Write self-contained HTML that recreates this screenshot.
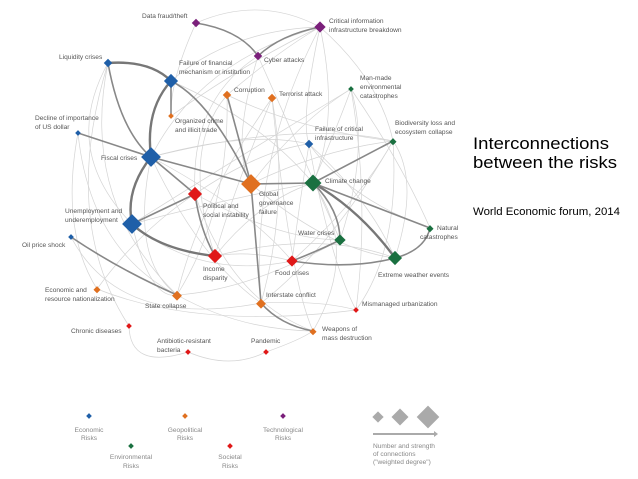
<!DOCTYPE html>
<html><head><meta charset="utf-8"><style>
body{margin:0;background:#fff;width:638px;height:479px;overflow:hidden;font-family:"Liberation Sans",sans-serif}
svg{position:absolute;left:0;top:0}
.t{font-size:6.6px;fill:#555}
.l{fill:none;stroke:#d4d4d4;stroke-width:0.7}
.d{fill:none;stroke:#888;stroke-width:1.6}
.dd{fill:none;stroke:#777;stroke-width:2.4}
</style></head><body>
<svg width="638" height="479" viewBox="0 0 638 479">
<g class="l">
<path d="M196,23 Q260,-5 320,27"/><path d="M196,23 Q170,80 171,116"/><path d="M320,27 Q340,120 313,183"/>
<path d="M320,27 Q380,80 393,141"/><path d="M320,27 Q200,60 151,157"/><path d="M320,27 Q300,120 309,144"/>
<path d="M258,56 Q230,150 251,184"/><path d="M258,56 Q300,150 340,240"/><path d="M320,27 Q250,160 261,303"/>
<path d="M108,63 Q60,150 132,224"/><path d="M108,63 Q80,200 177,295"/><path d="M78,133 Q60,230 97,289"/>
<path d="M151,157 Q300,120 393,141"/><path d="M151,157 Q250,130 309,144"/><path d="M151,157 Q130,260 177,295"/>
<path d="M151,157 Q200,260 261,303"/><path d="M132,224 Q200,280 292,261"/><path d="M132,224 Q150,300 177,295"/>
<path d="M132,224 Q220,200 313,183"/><path d="M71,237 Q120,330 261,303"/><path d="M97,289 Q200,330 356,310"/>
<path d="M177,295 Q250,290 340,240"/><path d="M177,295 Q230,210 227,95"/><path d="M177,295 Q200,200 272,98"/>
<path d="M261,303 Q330,250 393,141"/><path d="M261,303 Q290,200 272,98"/><path d="M261,303 Q320,300 356,310"/>
<path d="M356,310 Q370,200 351,89"/><path d="M356,310 Q400,250 393,141"/><path d="M356,310 Q330,260 309,144"/>
<path d="M313,331 Q290,280 272,98"/><path d="M313,331 Q230,300 195,194"/><path d="M313,331 Q360,250 313,183"/>
<path d="M292,261 Q360,200 393,141"/><path d="M292,261 Q300,200 309,144"/><path d="M292,261 Q250,250 215,256"/>
<path d="M340,240 Q370,150 351,89"/><path d="M395,258 Q420,180 393,141"/><path d="M430,228 Q400,160 351,89"/>
<path d="M313,183 Q340,120 351,89"/><path d="M251,184 Q300,120 351,89"/><path d="M251,184 Q320,150 393,141"/>
<path d="M129,326 Q130,370 188,352"/><path d="M188,352 Q230,370 266,352"/><path d="M266,352 Q300,340 313,331"/>
<path d="M129,326 Q60,220 108,63"/><path d="M195,194 Q190,100 258,56"/><path d="M215,256 Q180,150 227,95"/>
<path d="M171,81 Q230,30 320,27"/><path d="M171,116 Q250,60 320,27"/><path d="M227,95 Q280,50 320,27"/>
<path d="M251,184 Q330,250 395,258"/><path d="M195,194 Q280,240 340,240"/><path d="M215,256 Q320,230 395,258"/>
<path d="M177,295 Q240,330 313,331"/><path d="M97,289 Q140,230 195,194"/><path d="M151,157 Q250,210 292,261"/>
<path d="M309,144 Q370,200 395,258"/><path d="M309,144 Q350,200 430,228"/><path d="M272,98 Q230,200 215,256"/>
<path d="M78,133 Q90,250 177,295"/><path d="M171,81 Q260,120 313,183"/><path d="M227,95 Q300,130 393,141"/>
<path d="M195,194 Q260,150 309,144"/><path d="M215,256 Q260,200 313,183"/><path d="M132,224 Q250,150 351,89"/>
</g>
<g class="d">
<path d="M196,23 Q240,30 258,56"/><path d="M258,56 Q280,35 320,27"/><path d="M108,63 Q120,130 151,157"/>
<path d="M78,133 L151,157"/><path d="M151,157 L251,184"/><path d="M151,157 L195,194"/><path d="M171,81 Q210,100 251,184"/>
<path d="M227,95 L251,184"/><path d="M251,184 L313,183"/><path d="M251,184 L261,303"/><path d="M132,224 L195,194"/>
<path d="M195,194 Q200,230 215,256"/><path d="M313,183 L393,141"/><path d="M313,183 L430,228"/><path d="M313,183 Q340,210 340,240"/>
<path d="M292,261 Q320,250 340,240"/><path d="M292,261 Q350,270 395,258"/><path d="M395,258 Q425,250 430,228"/>
<path d="M261,303 Q280,325 313,331"/><path d="M71,237 Q120,270 177,295"/><path d="M171,81 L171,116"/>
</g>
<g class="dd">
<path d="M108,63 Q150,60 171,81"/><path d="M171,81 Q145,110 151,157"/><path d="M151,157 Q125,190 132,224"/>
<path d="M132,224 Q160,250 215,256"/><path d="M313,183 Q360,210 395,258"/>
</g>
<g>
<g fill="#7a1f7a"><rect x="193" y="20" width="6" height="6" transform="rotate(45 196 23)"/><rect x="316" y="23" width="8" height="8" transform="rotate(45 320 27)"/><rect x="255" y="53" width="6" height="6" transform="rotate(45 258 56)"/></g>
<g fill="#1f5fa8"><rect x="105" y="60" width="6" height="6" transform="rotate(45 108 63)"/><rect x="166" y="76" width="10" height="10" transform="rotate(45 171 81)"/><rect x="76" y="131" width="4" height="4" transform="rotate(45 78 133)"/><rect x="306" y="141" width="6" height="6" transform="rotate(45 309 144)"/><rect x="144" y="150" width="14" height="14" transform="rotate(45 151 157)"/><rect x="125" y="217" width="14" height="14" transform="rotate(45 132 224)"/><rect x="69" y="235" width="4" height="4" transform="rotate(45 71 237)"/></g>
<g fill="#e07020"><rect x="224" y="92" width="6" height="6" transform="rotate(45 227 95)"/><rect x="269" y="95" width="6" height="6" transform="rotate(45 272 98)"/><rect x="169" y="114" width="4" height="4" transform="rotate(45 171 116)"/><rect x="244" y="177" width="14" height="14" transform="rotate(45 251 184)"/><rect x="95" y="287" width="5" height="5" transform="rotate(45 97 289)"/><rect x="174" y="292" width="7" height="7" transform="rotate(45 177 295)"/><rect x="258" y="300" width="7" height="7" transform="rotate(45 261 303)"/><rect x="311" y="329" width="5" height="5" transform="rotate(45 313 331)"/></g>
<g fill="#1a7040"><rect x="349" y="87" width="4" height="4" transform="rotate(45 351 89)"/><rect x="391" y="139" width="5" height="5" transform="rotate(45 393 141)"/><rect x="307" y="177" width="12" height="12" transform="rotate(45 313 183)"/><rect x="428" y="226" width="5" height="5" transform="rotate(45 430 228)"/><rect x="336" y="236" width="8" height="8" transform="rotate(45 340 240)"/><rect x="390" y="253" width="10" height="10" transform="rotate(45 395 258)"/></g>
<g fill="#e01818"><rect x="190" y="189" width="10" height="10" transform="rotate(45 195 194)"/><rect x="210" y="251" width="10" height="10" transform="rotate(45 215 256)"/><rect x="288" y="257" width="8" height="8" transform="rotate(45 292 261)"/><rect x="354" y="308" width="4" height="4" transform="rotate(45 356 310)"/><rect x="127" y="324" width="4" height="4" transform="rotate(45 129 326)"/><rect x="186" y="350" width="4" height="4" transform="rotate(45 188 352)"/><rect x="264" y="350" width="4" height="4" transform="rotate(45 266 352)"/></g>
</g>
<g class="t">
<text x="142" y="18">Data fraud/theft</text>
<text x="329" y="23">Critical information</text><text x="329" y="32">infrastructure breakdown</text>
<text x="264" y="62">Cyber attacks</text>
<text x="59" y="59">Liquidity crises</text>
<text x="179" y="65">Failure of financial</text><text x="179" y="74">mechanism or institution</text>
<text x="234" y="92">Corruption</text><text x="279" y="96">Terrorist attack</text>
<text x="360" y="80">Man-made</text><text x="360" y="89">environmental</text><text x="360" y="98">catastrophes</text>
<text x="175" y="123">Organized crime</text><text x="175" y="132">and illicit trade</text>
<text x="35" y="120">Decline of importance</text><text x="35" y="129">of US dollar</text>
<text x="315" y="131">Failure of critical</text><text x="315" y="140">infrastructure</text>
<text x="395" y="125">Biodiversity loss and</text><text x="395" y="134">ecosystem collapse</text>
<text x="101" y="160">Fiscal crises</text>
<text x="325" y="183">Climate change</text>
<text x="259" y="196">Global</text><text x="259" y="205">governance</text><text x="259" y="214">failure</text>
<text x="203" y="208">Political and</text><text x="203" y="217">social instability</text>
<text x="65" y="213">Unemployment and</text><text x="65" y="222">underemployment</text>
<text x="22" y="247">Oil price shock</text>
<text x="437" y="230">Natural</text><text x="420" y="239">catastrophes</text>
<text x="298" y="235">Water crises</text>
<text x="203" y="271">Income</text><text x="203" y="280">disparity</text>
<text x="275" y="275">Food crises</text>
<text x="378" y="277">Extreme weather events</text>
<text x="45" y="292">Economic and</text><text x="45" y="301">resource nationalization</text>
<text x="145" y="308">State collapse</text>
<text x="266" y="297">Interstate conflict</text>
<text x="362" y="306">Mismanaged urbanization</text>
<text x="322" y="331">Weapons of</text><text x="322" y="340">mass destruction</text>
<text x="71" y="333">Chronic diseases</text>
<text x="157" y="343">Antibiotic-resistant</text><text x="157" y="352">bacteria</text>
<text x="251" y="343">Pandemic</text>
</g>
<g class="t" style="fill:#888" text-anchor="middle">
<rect x="87" y="414" width="4" height="4" fill="#1f5fa8" transform="rotate(45 89 416)"/>
<text x="89" y="432">Economic</text><text x="89" y="440">Risks</text>
<rect x="129" y="444" width="4" height="4" fill="#1a7040" transform="rotate(45 131 446)"/>
<text x="131" y="459">Environmental</text><text x="131" y="468">Risks</text>
<rect x="183" y="414" width="4" height="4" fill="#e07020" transform="rotate(45 185 416)"/>
<text x="185" y="432">Geopolitical</text><text x="185" y="440">Risks</text>
<rect x="228" y="444" width="4" height="4" fill="#e01818" transform="rotate(45 230 446)"/>
<text x="230" y="459">Societal</text><text x="230" y="468">Risks</text>
<rect x="281" y="414" width="4" height="4" fill="#7a1f7a" transform="rotate(45 283 416)"/>
<text x="283" y="432">Technological</text><text x="283" y="440">Risks</text>
</g>
<rect x="374" y="413" width="8" height="8" fill="#aaa" transform="rotate(45 378 417)"/>
<rect x="394" y="411" width="12" height="12" fill="#aaa" transform="rotate(45 400 417)"/>
<rect x="420" y="409" width="16" height="16" fill="#aaa" transform="rotate(45 428 417)"/>
<line x1="373" y1="434" x2="434" y2="434" stroke="#aaa" stroke-width="2"/>
<polygon points="434,431 438,434 434,437" fill="#aaa"/>
<g class="t" style="fill:#888"><text x="373" y="448">Number and strength</text><text x="373" y="456">of connections</text><text x="373" y="464">("weighted degree")</text></g>
<text x="473" y="149" font-size="16.5" fill="#000" textLength="136" lengthAdjust="spacingAndGlyphs">Interconnections</text>
<text x="473" y="168" font-size="16.5" fill="#000" textLength="144" lengthAdjust="spacingAndGlyphs">between the risks</text>
<text x="473" y="215" font-size="11" fill="#000" textLength="147" lengthAdjust="spacingAndGlyphs">World Economic forum, 2014</text>
</svg>
</body></html>
